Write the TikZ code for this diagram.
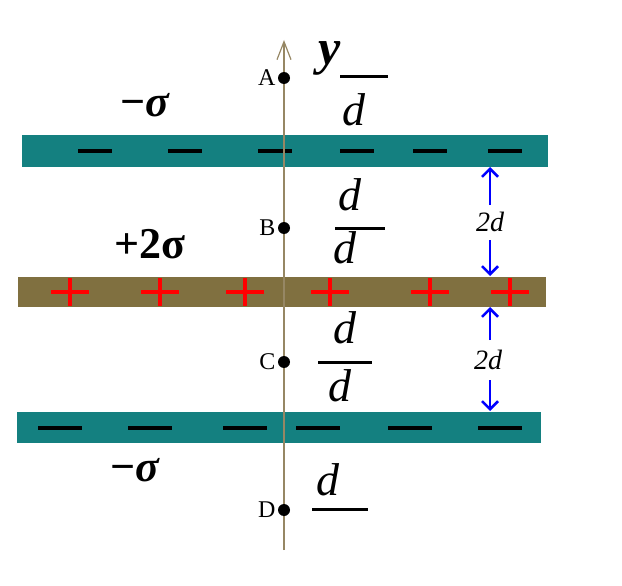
\documentclass[tikz,border=0pt]{standalone}
\usepackage{fontspec}
\setmainfont{Liberation Serif}
\usetikzlibrary{arrows.meta}
\definecolor{teal1}{RGB}{20,128,128}
\definecolor{olive1}{RGB}{128,112,64}
\definecolor{axisc}{RGB}{150,135,100}
\tikzset{
 negline/.style={line width=4.5pt,black},
 plusline/.style={line width=4.5pt,red},
 frac/.style={line width=3pt,black},
 pt/.style={circle,fill=black,inner sep=0pt,minimum size=12pt},
 lbl/.style={font=\fontsize{24}{24}\selectfont},
 dd/.style={font=\fontsize{46}{46}\selectfont\itshape},
 sig/.style={font=\fontsize{44}{44}\selectfont\bfseries},
 barr/.style={blue,line width=2.5pt,-{Straight Barb[length=8pt,width=16pt]}}}
\begin{document}
\begin{tikzpicture}[x=1pt,y=-1pt]
\useasboundingbox (0,0) rectangle (622,586);
\fill[teal1] (22,135) rectangle (548,167);
\fill[olive1] (18,277) rectangle (546,307);
\fill[teal1] (17,412) rectangle (541,443);
\foreach \x in {95,185,275,357,430,505}{\draw[negline] (\x-17,151)--(\x+17,151);}
\foreach \x in {70,160,245,330,430,510}{\draw[plusline] (\x-19,292)--(\x+19,292);\draw[plusline](\x,278)--(\x,306);}
\foreach \x in {60,150,245,318,410,500}{\draw[negline] (\x-22,428)--(\x+22,428);}
\coordinate (bot) at (284,550); \coordinate (top) at (284,40);
\draw[axisc,line width=1.2pt,-{Straight Barb[length=18pt,width=14pt]}] (bot)--(top);
\node[pt] (A) at (284,78) {}; \node[lbl,left=5pt] at (A) {A};
\node[pt] (B) at (284,228) {}; \node[lbl,left=5pt] at (B) {B};
\node[pt] (C) at (284,362) {}; \node[lbl,left=5pt] at (C) {C};
\node[pt] (D) at (284,510) {}; \node[lbl,left=5pt] at (D) {D};
\node[font=\fontsize{50}{50}\selectfont\bfseries\itshape] (y) at (330,58) {y};
\draw[frac] (340,77)--(388,77);
\node[dd] at (354,110) {d};
\node[dd] at (350,195) {d}; \draw[frac] (335,228)--(385,228); \node[dd] at (345,248) {d};
\node[dd] at (345,328) {d}; \draw[frac] (318,362)--(372,362); \node[dd] at (340,386) {d};
\node[dd] at (328,480) {d}; \draw[frac] (312,509)--(368,509);
\node[sig] at (145,105) {−\textit{σ}};
\node[sig] at (150,244) {+2σ};
\node[sig] at (135,470) {−\textit{σ}};
\node[font=\fontsize{28}{28}\selectfont\itshape] (t1) at (490,222) {2d};
\node[font=\fontsize{28}{28}\selectfont\itshape] (t2) at (488,360) {2d};
\coordinate (u1) at (490,167); \coordinate (d1) at (490,276);
\coordinate (u2) at (490,307); \coordinate (d2) at (490,411);
\draw[barr] (490,205)--(u1); \draw[barr] (490,240)--(d1);
\draw[barr] (490,340)--(u2); \draw[barr] (490,380)--(d2);
\end{tikzpicture}
\end{document}
